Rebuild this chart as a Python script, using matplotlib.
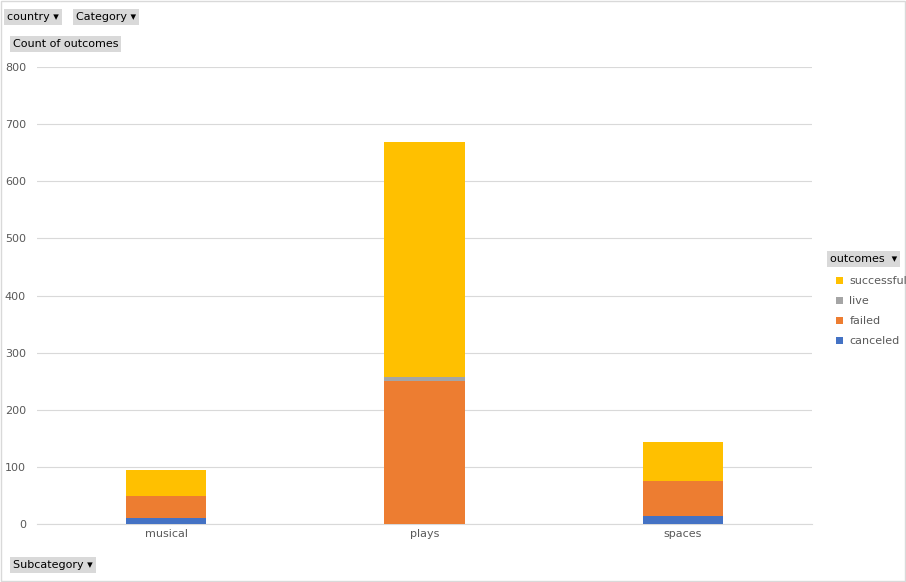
import matplotlib
matplotlib.use("Agg")
import matplotlib.pyplot as plt
import numpy as np

categories = ["musical", "plays", "spaces"]
canceled = [10, 0, 14]
failed = [39, 250, 61]
live = [0, 7, 1]
successful = [45, 412, 68]
series = [("canceled", canceled, "#4472C4"), ("failed", failed, "#ED7D31"),
          ("live", live, "#A5A5A5"), ("successful", successful, "#FFC000")]

plt.rcParams['font.family'] = ['DejaVu Sans']
fig = plt.figure(figsize=(9.06, 5.82), dpi=100)
ax = fig.add_axes([37/906, 1-524/582, (812-37)/906, (524-67)/582])
x = np.arange(len(categories))
bottom = np.zeros(len(categories))
handles = {}
for name, vals, col in series:
    h = ax.bar(x, vals, 0.31, bottom=bottom, color=col, zorder=3)
    handles[name] = h
    bottom += np.array(vals)
ax.set_xlim(-0.5, 2.5)
ax.set_ylim(0, 800)
ax.set_yticks(range(0, 801, 100))
ax.grid(axis='y', color='#D9D9D9', lw=0.8, zorder=0)
for s in ['top', 'right', 'left']:
    ax.spines[s].set_visible(False)
ax.spines['bottom'].set_color('#D9D9D9')
ax.tick_params(length=0, labelsize=8, colors='#595959')
ax.set_xticks(x, categories)
ax.tick_params(axis='y', pad=8)

leg = fig.legend([handles[n] for n in ["successful", "live", "failed", "canceled"]],
                 ["successful", "live", "failed", "canceled"],
                 loc='upper left', bbox_to_anchor=(826/906, 1-266/582), frameon=False,
                 fontsize=8, handlelength=0.6, handleheight=0.6, labelspacing=0.9,
                 labelcolor='#595959', handletextpad=0.6)

def btn(xp, yp, txt):
    fig.text(xp/906, 1-yp/582, txt, fontsize=8, va='center', ha='left',
             bbox=dict(boxstyle='square,pad=0.25', fc='#D9D9D9', ec='none'))
btn(7, 17, "country ▾")
btn(76, 17, "Category ▾")
btn(13, 44, "Count of outcomes")
btn(830, 259, "outcomes  ▾")
btn(13, 565, "Subcategory ▾")
fig.add_artist(plt.Rectangle((0.001, 0.001), 0.998, 0.998, transform=fig.transFigure,
                             fill=False, ec='#D9D9D9', lw=1))
fig.savefig("out.png", dpi=100)
